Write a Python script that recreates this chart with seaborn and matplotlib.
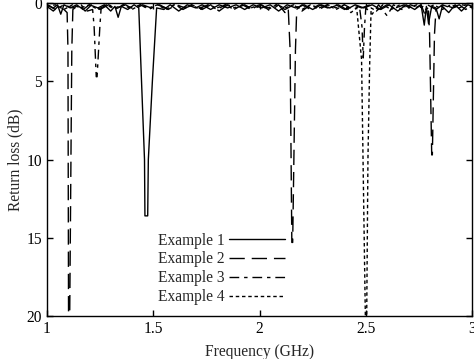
import pandas as pd
import matplotlib
matplotlib.use("Agg")
import matplotlib.pyplot as plt
import seaborn as sns

# (frequency in GHz, return loss in dB)
ex1_points = [
    (1.00, 0.1), (1.03, 0.3), (1.05, 0.1), (1.065, 0.7), (1.08, 0.1), (1.11, 0.3),
    (1.14, 0.1), (1.17, 0.4), (1.20, 0.1), (1.24, 0.3), (1.27, 0.1), (1.30, 0.5),
    (1.32, 0.2), (1.335, 0.9), (1.35, 0.2), (1.38, 0.4), (1.41, 0.1), (1.432, 0.3),
    (1.445, 5.0), (1.459, 10.0), (1.461, 13.6), (1.474, 13.6), (1.477, 10.0),
    (1.496, 5.0), (1.516, 0.3), (1.55, 0.4), (1.58, 0.1), (1.62, 0.5), (1.66, 0.1),
    (1.70, 0.3), (1.73, 0.1), (1.77, 0.4), (1.81, 0.1), (1.85, 0.3), (1.89, 0.1),
    (1.93, 0.4), (1.97, 0.1), (2.01, 0.3), (2.05, 0.1), (2.09, 0.5), (2.13, 0.1),
    (2.17, 0.3), (2.21, 0.1), (2.25, 0.4), (2.29, 0.1), (2.33, 0.3), (2.37, 0.1),
    (2.41, 0.4), (2.45, 0.1), (2.49, 0.3), (2.53, 0.1), (2.57, 0.4), (2.61, 0.1),
    (2.65, 0.5), (2.69, 0.1), (2.73, 0.4), (2.76, 0.1), (2.775, 1.4), (2.785, 0.2),
    (2.795, 1.3), (2.81, 0.2), (2.83, 0.3), (2.845, 1.0), (2.86, 0.2), (2.89, 0.6),
    (2.92, 0.1), (2.95, 0.5), (2.98, 0.1), (3.00, 0.2),
]
ex2_points = [
    (1.00, 0.2), (1.03, 0.5), (1.06, 0.1), (1.08, 0.4), (1.095, 0.6), (1.099, 3.0),
    (1.102, 22.0), (1.106, 22.0), (1.117, 3.0), (1.122, 0.4), (1.15, 0.1), (1.18, 0.5),
    (1.21, 0.1), (1.25, 0.4), (1.29, 0.1), (1.33, 0.3), (1.37, 0.1), (1.41, 0.4),
    (1.45, 0.1), (1.49, 0.3), (1.53, 0.1), (1.57, 0.4), (1.61, 0.1), (1.65, 0.3),
    (1.69, 0.1), (1.73, 0.4), (1.77, 0.1), (1.81, 0.5), (1.85, 0.1), (1.89, 0.3),
    (1.93, 0.1), (1.97, 0.4), (2.01, 0.1), (2.05, 0.5), (2.09, 0.1), (2.12, 0.6),
    (2.135, 0.3), (2.144, 3.0), (2.152, 15.3), (2.156, 15.3), (2.169, 3.0),
    (2.175, 0.4), (2.20, 0.1), (2.24, 0.4), (2.28, 0.1), (2.32, 0.3), (2.36, 0.1),
    (2.40, 0.4), (2.44, 0.1), (2.48, 0.3), (2.52, 0.1), (2.56, 0.4), (2.60, 0.1),
    (2.64, 0.3), (2.68, 0.1), (2.72, 0.4), (2.76, 0.1), (2.78, 0.8), (2.795, 0.5),
    (2.80, 2.0), (2.81, 9.7), (2.813, 9.7), (2.823, 2.0), (2.83, 0.4), (2.86, 0.1),
    (2.90, 0.3), (2.94, 0.1), (2.97, 0.4), (3.00, 0.1),
]
ex3_points = [
    (1.00, 0.1), (1.04, 0.4), (1.08, 0.1), (1.12, 0.3), (1.16, 0.1), (1.19, 0.5),
    (1.215, 0.4), (1.222, 1.5), (1.232, 4.7), (1.236, 4.7), (1.249, 1.5), (1.255, 0.3),
    (1.28, 0.1), (1.32, 0.4), (1.36, 0.1), (1.40, 0.3), (1.44, 0.1), (1.48, 0.4),
    (1.52, 0.1), (1.56, 0.3), (1.60, 0.1), (1.64, 0.4), (1.68, 0.1), (1.72, 0.3),
    (1.76, 0.1), (1.80, 0.4), (1.84, 0.1), (1.88, 0.3), (1.92, 0.1), (1.96, 0.4),
    (2.00, 0.1), (2.04, 0.3), (2.08, 0.1), (2.12, 0.4), (2.16, 0.1), (2.20, 0.5),
    (2.24, 0.1), (2.28, 0.4), (2.32, 0.1), (2.36, 0.3), (2.40, 0.1), (2.44, 0.4),
    (2.47, 0.2), (2.482, 1.5), (2.488, 3.5), (2.494, 1.5), (2.50, 0.3), (2.53, 0.7),
    (2.56, 0.1), (2.60, 0.8), (2.63, 0.1), (2.67, 0.4), (2.71, 0.1), (2.75, 0.3),
    (2.79, 0.1), (2.83, 0.4), (2.87, 0.1), (2.91, 0.3), (2.95, 0.1), (3.00, 0.2),
]
ex4_points = [
    (1.00, 0.2), (1.04, 0.1), (1.08, 0.4), (1.12, 0.1), (1.16, 0.3), (1.20, 0.1),
    (1.24, 0.4), (1.28, 0.1), (1.32, 0.3), (1.36, 0.1), (1.40, 0.4), (1.44, 0.1),
    (1.48, 0.3), (1.52, 0.1), (1.56, 0.4), (1.60, 0.1), (1.64, 0.3), (1.68, 0.1),
    (1.72, 0.4), (1.76, 0.1), (1.80, 0.3), (1.84, 0.1), (1.88, 0.4), (1.92, 0.1),
    (1.96, 0.3), (2.00, 0.1), (2.04, 0.4), (2.08, 0.1), (2.12, 0.3), (2.16, 0.1),
    (2.20, 0.4), (2.24, 0.1), (2.28, 0.3), (2.32, 0.1), (2.36, 0.4), (2.40, 0.1),
    (2.43, 0.6), (2.457, 0.3), (2.48, 3.6), (2.50, 22.0), (2.503, 22.0), (2.51, 10.0),
    (2.518, 4.0), (2.525, 0.3), (2.55, 0.5), (2.58, 0.1), (2.62, 0.4), (2.66, 0.1),
    (2.70, 0.3), (2.74, 0.1), (2.78, 0.4), (2.82, 0.1), (2.86, 0.4), (2.90, 0.1),
    (2.94, 0.3), (2.97, 0.1), (3.00, 0.3),
]

series_names = ["Example 1", "Example 2", "Example 3", "Example 4"]
series_points = [ex1_points, ex2_points, ex3_points, ex4_points]
x_ticks = [1, 1.5, 2, 2.5, 3]
y_ticks = [0, 5, 10, 15, 20]

rows = []
for name, pts in zip(series_names, series_points):
    for f, rl in pts:
        rows.append({"Frequency": f, "Loss": rl, "Series": name})
df = pd.DataFrame(rows)

sns.set_theme(style="ticks")
plt.rcParams["font.family"] = ["Liberation Serif", "DejaVu Serif"]
fs = 11.2
plt.rcParams["font.size"] = fs

fig, ax = plt.subplots(figsize=(4.74, 3.59), dpi=100)
fig.subplots_adjust(left=0.099, right=0.996, top=0.991, bottom=0.12)

line_dashes = {
    "Example 1": "",
    "Example 2": (11, 5),
    "Example 3": (7, 3.5, 2.5, 3.5),
    "Example 4": (2.5, 2),
}
sns.lineplot(data=df, x="Frequency", y="Loss", style="Series", dashes=line_dashes,
             color="black", linewidth=1.0, estimator=None, sort=False, ax=ax)

ax.set_xlim(1, 3)
ax.set_ylim(20, 0)
ax.set_xticks(x_ticks)
ax.set_xticklabels(["1", "1.5", "2", "2.5", "3"])
ax.set_yticks(y_ticks)
ax.tick_params(direction="in", top=True, right=True, length=4, width=1,
               labelsize=fs, colors="black")
for s in ax.spines.values():
    s.set_visible(True)
    s.set_color("black")
    s.set_linewidth(1.0)

ax.set_xlabel("Frequency (GHz)", fontsize=fs, labelpad=5)
ax.set_ylabel("Return loss (dB)", fontsize=fs, labelpad=2)

handles, labels = ax.get_legend_handles_labels()
ax.legend(handles, labels, loc="lower right", bbox_to_anchor=(0.56, 0.035),
          frameon=False, markerfirst=False, handlelength=3.6, handletextpad=0.3,
          labelspacing=0.18, borderpad=0, borderaxespad=0, fontsize=fs)

fig.savefig("out.png", dpi=100)
